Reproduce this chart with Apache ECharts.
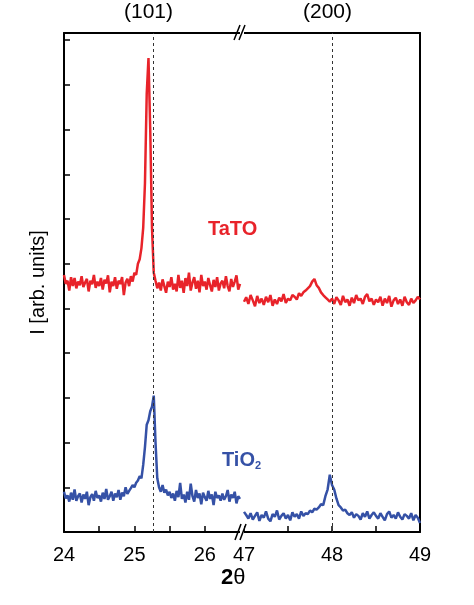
<!DOCTYPE html>
<html>
<head>
<meta charset="utf-8">
<script src="https://cdn.jsdelivr.net/npm/echarts@6/dist/echarts.min.js"></script>
<style>html,body{margin:0;padding:0;background:#fff}#c{width:474px;height:605px}</style>
</head>
<body>
<div id="c"></div>
<script>
// sampling grid: left window 24..26.5, right window 47..49, both at 0.025 steps
const leftX = [];
for (let i = 0; i <= 100; i++) leftX.push(+(24 + 0.025 * i).toFixed(3));
const rightX = [];
for (let i = 0; i <= 80; i++) rightX.push(+(47 + 0.025 * i).toFixed(3));

const tatoLeft = [
  5.75,5.55,5.62,5.4,5.7,5.5,5.68,5.45,5.6,5.52,
  5.72,5.48,5.58,5.66,5.38,5.62,5.54,5.75,5.46,5.6,
  5.5,5.68,5.42,5.64,5.56,5.74,5.36,5.6,5.5,5.7,
  5.44,5.62,5.55,5.7,5.3,5.58,5.66,5.5,5.72,5.6,
  5.8,5.75,6.0,6.1,6.35,6.8,7.8,9.8,10.6,9.0,
  6.8,5.8,5.62,5.45,5.58,5.4,5.65,5.5,5.35,5.6,
  5.48,5.7,5.42,5.55,5.38,5.75,5.46,5.62,5.35,5.68,
  5.5,5.8,5.4,5.58,5.7,5.44,5.62,5.36,5.75,5.5,
  5.6,5.42,5.68,5.52,5.38,5.64,5.48,5.7,5.4,5.56,
  5.62,5.45,5.72,5.5,5.38,5.66,5.48,5.6,5.74,5.42,5.55
];
const tio2Left = [
  0.9,0.75,0.82,0.68,0.88,0.72,0.95,0.7,0.8,0.86,
  0.66,0.84,0.74,0.9,0.6,0.78,0.85,0.7,0.92,0.76,
  0.82,0.68,0.88,0.74,0.96,0.72,0.8,0.9,0.7,0.86,
  0.78,0.94,0.72,0.88,0.8,1.0,0.85,0.92,0.98,1.05,
  1.0,1.1,1.15,1.25,1.2,1.5,1.9,2.4,2.5,2.7,
  2.8,3.05,2.0,1.2,1.0,0.9,1.05,0.88,0.95,0.82,
  0.9,0.76,0.86,0.7,0.92,0.78,1.1,0.74,0.84,0.66,
  0.9,0.72,1.08,0.8,0.68,0.94,0.76,0.86,0.62,0.88,
  0.78,0.7,0.92,0.74,0.84,0.6,0.9,0.76,0.82,0.7,
  0.86,0.72,0.8,0.94,0.68,0.84,0.76,0.9,0.64,0.8,0.74
];
const tatoRight = [
  5.15,5.25,5.1,5.3,5.18,5.05,5.28,5.12,5.22,5.08,
  5.26,5.14,5.3,5.06,5.2,5.1,5.24,5.16,5.32,5.12,
  5.22,5.18,5.3,5.26,5.2,5.34,5.28,5.36,5.4,5.45,
  5.5,5.6,5.66,5.52,5.46,5.36,5.3,5.25,5.2,5.15,
  5.22,5.1,5.25,5.18,5.08,5.28,5.14,5.2,5.06,5.24,
  5.12,5.3,5.18,5.22,5.1,5.26,5.32,5.16,5.22,5.08,
  5.2,5.14,5.26,5.06,5.22,5.12,5.28,5.04,5.18,5.24,
  5.1,5.2,5.06,5.26,5.14,5.08,5.22,5.12,5.18,5.26,5.2
];
const tio2Right = [
  0.45,0.38,0.3,0.42,0.28,0.36,0.44,0.25,0.38,0.32,
  0.46,0.3,0.24,0.4,0.34,0.48,0.28,0.36,0.42,0.3,
  0.38,0.26,0.44,0.34,0.4,0.3,0.46,0.36,0.42,0.4,
  0.48,0.44,0.52,0.5,0.55,0.62,0.6,0.8,0.95,1.28,
  1.05,0.95,0.75,0.6,0.55,0.48,0.5,0.42,0.38,0.44,
  0.32,0.4,0.36,0.28,0.42,0.34,0.46,0.3,0.38,0.44,
  0.36,0.3,0.42,0.34,0.26,0.4,0.46,0.32,0.38,0.3,
  0.44,0.34,0.28,0.4,0.36,0.3,0.42,0.26,0.38,0.32,0.2
];
const peaks = [25.27, 48.0];
const peakLabels = ['(101)', '(200)'];

const RED = '#e8232a', BLUE = '#3551a6';
const FONT = 'Liberation Sans';
const zip = (xs, ys) => xs.map((x, i) => [x, ys[i]]);

const chart = echarts.init(document.getElementById('c'));
const axisLine = { show: true, lineStyle: { color: '#000', width: 2 } };
const bottomAxis = (min, max, idx) => ({
  type: 'value', gridIndex: idx, min, max, interval: 0.5, position: 'bottom',
  axisLine, splitLine: { show: false },
  axisTick: { inside: true, length: 6, lineStyle: { width: 1.5, color: '#000' } },
  axisLabel: {
    fontFamily: FONT, fontSize: 20, color: '#000', margin: 13,
    formatter: v => (Number.isInteger(v) ? v : ''),
    showMinLabel: true, showMaxLabel: idx === 1
  }
});
const topAxis = (min, max, idx) => ({
  type: 'value', gridIndex: idx, min, max, position: 'top',
  axisLine, axisTick: { show: false }, axisLabel: { show: false }, splitLine: { show: false }
});
const line = (name, data, color, xi) => ({
  name, type: 'line', xAxisIndex: xi, yAxisIndex: xi, data, showSymbol: false,
  lineStyle: { color, width: 2.5 }, z: 3
});
const vline = (x, xi) => ({
  type: 'line', xAxisIndex: xi, yAxisIndex: xi, data: [], silent: true,
  markLine: {
    symbol: 'none', label: { show: false },
    lineStyle: { type: [3, 3], color: '#333', width: 1 },
    data: [{ xAxis: x }]
  }
});

chart.setOption({
  animation: false,
  grid: [
    { left: 64, top: 33, width: 176, height: 499 },
    { left: 244, top: 33, width: 176, height: 499 }
  ],
  xAxis: [
    bottomAxis(24, 26.5, 0), bottomAxis(47, 49, 1),
    topAxis(24, 26.5, 0), topAxis(47, 49, 1)
  ],
  yAxis: [
    {
      type: 'value', gridIndex: 0, min: 0, max: 11.16, interval: 1,
      axisLine, splitLine: { show: false }, axisLabel: { show: false },
      axisTick: { inside: true, length: 6, lineStyle: { width: 1.5, color: '#000' } },
      name: 'I [arb. units]', nameLocation: 'middle', nameGap: 16,
      nameTextStyle: { fontFamily: FONT, fontSize: 20, color: '#000' }
    },
    {
      type: 'value', gridIndex: 1, min: 0, max: 11.16, position: 'right',
      axisLine, splitLine: { show: false }, axisLabel: { show: false }, axisTick: { show: false }
    }
  ],
  series: [
    line('TaTO', zip(leftX, tatoLeft), RED, 0),
    line('TaTO', zip(rightX, tatoRight), RED, 1),
    line('TiO2', zip(leftX, tio2Left), BLUE, 0),
    line('TiO2', zip(rightX, tio2Right), BLUE, 1),
    vline(peaks[0], 0),
    vline(peaks[1], 1)
  ],
  graphic: [
    { type: 'rect', shape: { x: 240, y: 24, width: 4, height: 18 }, style: { fill: '#fff' }, z: 100 },
    { type: 'rect', shape: { x: 240, y: 523, width: 4, height: 18 }, style: { fill: '#fff' }, z: 100 },
    { type: 'line', shape: { x1: 234, y1: 40, x2: 240, y2: 25 }, style: { stroke: '#000', lineWidth: 1.5 }, z: 101 },
    { type: 'line', shape: { x1: 239, y1: 40, x2: 245, y2: 25 }, style: { stroke: '#000', lineWidth: 1.5 }, z: 101 },
    { type: 'line', shape: { x1: 235, y1: 540, x2: 241, y2: 524 }, style: { stroke: '#000', lineWidth: 1.5 }, z: 101 },
    { type: 'line', shape: { x1: 240, y1: 540, x2: 246, y2: 524 }, style: { stroke: '#000', lineWidth: 1.5 }, z: 101 },
    { type: 'text', left: 124, top: 2, style: { text: peakLabels[0], font: '21px ' + FONT, fill: '#000' } },
    { type: 'text', left: 303, top: 2, style: { text: peakLabels[1], font: '21px ' + FONT, fill: '#000' } },
    { type: 'text', left: 208, top: 219, style: { text: 'TaTO', font: 'bold 20px ' + FONT, fill: RED } },
    {
      type: 'text', left: 222, top: 450,
      style: {
        text: '{a|TiO}{b|2}', fill: BLUE,
        rich: {
          a: { font: 'bold 20px ' + FONT, fill: BLUE },
          b: { font: 'bold 11px ' + FONT, fill: BLUE, padding: [12, 0, 0, 0] }
        }
      }
    },
    {
      type: 'text', left: 221, top: 567,
      style: {
        text: '{a|2}{b|θ}',
        rich: {
          a: { font: 'bold 22px ' + FONT, fill: '#000' },
          b: { font: '22px ' + FONT, fill: '#000' }
        }
      }
    }
  ]
});
</script>
</body>
</html>
